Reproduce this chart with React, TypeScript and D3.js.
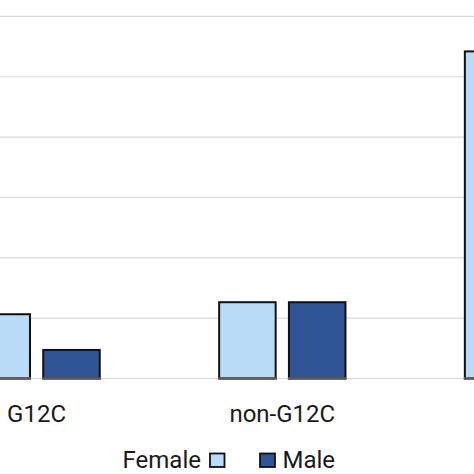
import React from "react";
import * as d3 from "d3";

const categories = ["G12C", "non-G12C", "Other"];
const sexes = ["Female", "Male"];
const femaleValues = [10.65, 12.64, 54.2];
const maleValues = [4.73, 12.64, 0];
const yTicks = [0, 10, 20, 30, 40, 50, 60];

const colors: Record<string, string> = { Female: "#b8dbf8", Male: "#2f5597" };

export default function App() {
  const W = 474;
  const H = 474;
  const y = d3.scaleLinear().domain([0, 60]).range([378.5, 16.4]);
  const x0 = d3.scaleBand<string>().domain(categories).range([-86.25, 650.85]).padding(0);
  const x1 = d3
    .scaleBand<string>()
    .domain(sexes)
    .range([0, 126.3])
    .paddingInner(0.19)
    .paddingOuter(0);
  const groupOffset = (x0.bandwidth() - 126.3) / 2;

  const rows = categories.map((c, i) => ({
    cat: c,
    vals: [
      { sex: "Female", v: femaleValues[i] },
      { sex: "Male", v: maleValues[i] },
    ],
  }));

  const font = "Roboto, 'Noto Sans', sans-serif";

  return (
    <svg
      width={W}
      height={H}
      style={{ position: "absolute", left: 0, top: 0, background: "#fff" }}
    >
      <rect x={0} y={0} width={W} height={H} fill="#fff" />
      {yTicks.map((t) => (
        <line
          key={t}
          x1={0}
          x2={W}
          y1={y(t)}
          y2={y(t)}
          stroke="#d9d9d9"
          strokeWidth={1.2}
        />
      ))}
      {rows.map((r) => {
        const center = (x0(r.cat) ?? 0) + x0.bandwidth() / 2;
        return (
          <g key={r.cat} transform={`translate(${(x0(r.cat) ?? 0) + groupOffset},0)`}>
            {r.vals
              .filter((d) => d.v > 0)
              .map((d) => {
                const bx = x1(d.sex) ?? 0;
                const bw = x1.bandwidth();
                return (
                  <g key={d.sex}>
                    <rect
                      x={bx}
                      y={y(d.v)}
                      width={bw}
                      height={y(0) - y(d.v)}
                      fill={colors[d.sex]}
                      stroke="#111"
                      strokeWidth={2}
                    />
                    <line
                      x1={bx - 1}
                      x2={bx + bw + 1}
                      y1={y(0)}
                      y2={y(0)}
                      stroke="#5e5e5e"
                      strokeWidth={2.6}
                    />
                  </g>
                );
              })}
            {center < W ? (
              <text
                x={x0.bandwidth() / 2 - groupOffset}
                y={422.3}
                textAnchor="middle"
                fontFamily={font}
                fontSize={24}
                fill="#1a1a1a"
              >
                {r.cat}
              </text>
            ) : null}
          </g>
        );
      })}
      <g fontFamily={font} fontSize={24} fill="#1a1a1a">
        <text x={201} y={467.7} textAnchor="end">
          Female
        </text>
        <rect x={210} y={453.5} width={14.5} height={13.5} fill={colors.Female} stroke="#111" strokeWidth={1.8} />
        <rect x={260} y={453.5} width={15} height={13.5} fill={colors.Male} stroke="#111" strokeWidth={1.8} />
        <text x={282.5} y={467.7} textAnchor="start">
          Male
        </text>
      </g>
    </svg>
  );
}
